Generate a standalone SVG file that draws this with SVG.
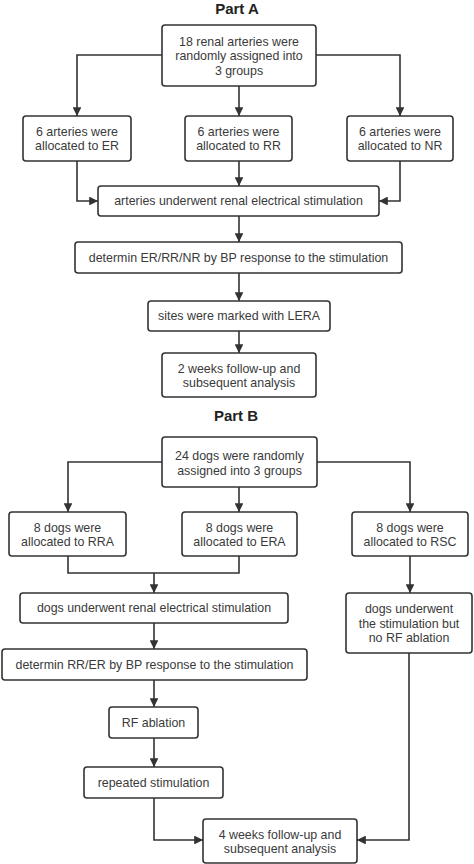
<svg xmlns="http://www.w3.org/2000/svg" width="474" height="864" viewBox="0 0 474 864">
<style>
.box{fill:#fff;stroke:#333;stroke-width:1.6}
.t{font-family:"Liberation Sans",Arial,sans-serif;font-size:12.4px;fill:#3a3a3a;text-anchor:middle;dominant-baseline:central}
.h{font-family:"Liberation Sans",Arial,sans-serif;font-size:15px;font-weight:bold;fill:#222;text-anchor:middle}
.c{fill:none;stroke:#333;stroke-width:1.6;marker-end:url(#a)}
.n{fill:none;stroke:#333;stroke-width:1.6}
</style>
<defs>
<marker id="a" viewBox="0 0 10 10" refX="10" refY="5" markerWidth="5.5" markerHeight="5.5" orient="auto" markerUnits="strokeWidth">
<path d="M0,0 L10,5 L0,10 z" fill="#333"/>
</marker>
</defs>
<rect width="474" height="864" fill="#fff"/>
<text class="h" x="237" y="13.5">Part A</text>
<text class="h" x="236" y="420.5">Part B</text>
<g id="connectors">
<path class="c" d="M162,55 H77 V116"/>
<path class="c" d="M239,86 V116"/>
<path class="c" d="M316,55 H400 V116"/>
<path class="c" d="M77,161 V201 H98"/>
<path class="c" d="M239,161 V186"/>
<path class="c" d="M400,161 V201 H379"/>
<path class="c" d="M239,216 V242"/>
<path class="c" d="M239,273 V301"/>
<path class="c" d="M239,331 V353"/>
<path class="c" d="M162,462 H68 V512"/>
<path class="c" d="M239,487 V512"/>
<path class="c" d="M317,462 H410 V512"/>
<path class="n" d="M68,556 V573 H239 V556"/>
<path class="c" d="M154,573 V593"/>
<path class="c" d="M410,556 V593"/>
<path class="c" d="M154,623 V649"/>
<path class="c" d="M154,680 V707"/>
<path class="c" d="M154,738 V767"/>
<path class="c" d="M154,798 V840 H203"/>
<path class="c" d="M409,653 V840 H357"/>
</g>
<g id="a_top"><rect class="box" x="162" y="25" width="154" height="61" rx="3"/>
<text class="t" x="239" y="41.5">18 renal arteries were</text>
<text class="t" x="239" y="56">randomly assigned into</text>
<text class="t" x="239" y="70.5">3 groups</text></g>
<g id="a_er"><rect class="box" x="23" y="116" width="108" height="45" rx="3"/>
<text class="t" x="77" y="131.5">6 arteries were</text>
<text class="t" x="77" y="146">allocated to ER</text></g>
<g id="a_rr"><rect class="box" x="185" y="116" width="107" height="45" rx="3"/>
<text class="t" x="238.5" y="131.5">6 arteries were</text>
<text class="t" x="238.5" y="146">allocated to RR</text></g>
<g id="a_nr"><rect class="box" x="347" y="116" width="106" height="45" rx="3"/>
<text class="t" x="400" y="131.5">6 arteries were</text>
<text class="t" x="400" y="146">allocated to NR</text></g>
<g id="a_stim"><rect class="box" x="98" y="186" width="281" height="30" rx="3"/>
<text class="t" x="238.5" y="201">arteries underwent renal electrical stimulation</text></g>
<g id="a_det"><rect class="box" x="75" y="242" width="327" height="31" rx="3"/>
<text class="t" x="238.5" y="258">determin ER/RR/NR by BP response to the stimulation</text></g>
<g id="a_sites"><rect class="box" x="148" y="301" width="182" height="30" rx="3"/>
<text class="t" x="239" y="316">sites were marked with LERA</text></g>
<g id="a_follow"><rect class="box" x="162" y="353" width="154" height="44" rx="3"/>
<text class="t" x="239" y="368.5">2 weeks follow-up and</text>
<text class="t" x="239" y="383">subsequent analysis</text></g>
<g id="b_top"><rect class="box" x="162" y="437" width="155" height="50" rx="3"/>
<text class="t" x="239.5" y="455.5">24 dogs were randomly</text>
<text class="t" x="239.5" y="470.5">assigned into 3 groups</text></g>
<g id="b_rra"><rect class="box" x="9" y="512" width="117" height="44" rx="3"/>
<text class="t" x="67.5" y="527.5">8 dogs were</text>
<text class="t" x="67.5" y="542">allocated to RRA</text></g>
<g id="b_era"><rect class="box" x="182" y="512" width="115" height="44" rx="3"/>
<text class="t" x="239.5" y="527.5">8 dogs were</text>
<text class="t" x="239.5" y="542">allocated to ERA</text></g>
<g id="b_rsc"><rect class="box" x="352" y="512" width="116" height="44" rx="3"/>
<text class="t" x="410" y="527.5">8 dogs were</text>
<text class="t" x="410" y="542">allocated to RSC</text></g>
<g id="b_stim"><rect class="box" x="20" y="593" width="268" height="30" rx="3"/>
<text class="t" x="154" y="608">dogs underwent renal electrical stimulation</text></g>
<g id="b_rscstim"><rect class="box" x="346" y="593" width="126" height="60" rx="3"/>
<text class="t" x="409" y="609">dogs underwent</text>
<text class="t" x="409" y="623.5">the stimulation but</text>
<text class="t" x="409" y="638">no RF ablation</text></g>
<g id="b_det"><rect class="box" x="2" y="649" width="305" height="31" rx="3"/>
<text class="t" x="154.5" y="665">determin RR/ER by BP response to the stimulation</text></g>
<g id="b_rf"><rect class="box" x="109" y="707" width="89" height="31" rx="3"/>
<text class="t" x="153.5" y="723">RF ablation</text></g>
<g id="b_rep"><rect class="box" x="84" y="767" width="139" height="31" rx="3"/>
<text class="t" x="153.5" y="783">repeated stimulation</text></g>
<g id="b_follow"><rect class="box" x="203" y="819" width="154" height="44" rx="3"/>
<text class="t" x="280" y="834.5">4 weeks follow-up and</text>
<text class="t" x="280" y="849">subsequent analysis</text></g>
</svg>
